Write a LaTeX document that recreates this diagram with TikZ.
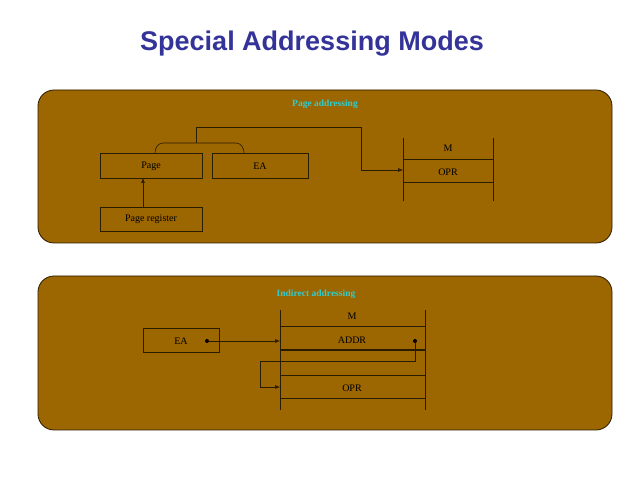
\documentclass[tikz,border=0pt]{standalone}
\usepackage{fontspec}
\setmainfont{Liberation Serif}
\newfontfamily\titlefont{Liberation Sans}
\usetikzlibrary{arrows.meta}
\definecolor{panel}{HTML}{9C6600}
\definecolor{edge}{HTML}{2A1C00}
\definecolor{ttl}{HTML}{333399}
\definecolor{cy}{HTML}{33CCCC}
\begin{document}
\begin{tikzpicture}[x=1pt,y=-1pt,
  pan/.style={draw=edge,fill=panel,rounded corners=16pt,line width=0.8pt},
  box/.style={draw=edge,line width=0.6pt},
  ln/.style={draw=edge,line width=0.6pt},
  arr/.style={ln,-{Latex[length=5pt,width=4pt]}},
  lbl/.style={font=\fontsize{10}{12}\selectfont,text=black},
  hd/.style={font=\bfseries\fontsize{9.5}{11}\selectfont,text=cy},
  dot/.style={circle,fill=black,inner sep=0pt,minimum size=4pt}]
\useasboundingbox (0,0) rectangle (638,478);
\fill[white] (0,0) rectangle (638,478);
\node[font=\titlefont\bfseries\fontsize{27}{30}\selectfont,text=ttl] (title) at (312,44) {Special Addressing Modes};
% top panel
\draw[pan] (38,90) rectangle (612,243);
\node[hd] (h1) at (325,104) {Page addressing};
\draw[box] (100,153) rectangle (202,178); \node[lbl] (page) at (151,166) {Page};
\draw[box] (212,153) rectangle (308,178); \node[lbl] (ea1) at (260,166) {EA};
\draw[box] (100,207) rectangle (202,231); \node[lbl] (preg) at (151,219) {Page register};
\coordinate (pregtop) at (143,207); \coordinate (pagebot) at (143,178);
\draw[arr] (pregtop) -- (pagebot);
\draw[ln] (155,153) to[out=90,in=180] (163,143) -- (236,143) to[out=0,in=90] (244,153);
\coordinate (bt) at (196,143); \coordinate (mopr) at (403,170);
\draw[arr] (bt) -- (196,127) -- (361,127) -- (361,170) -- (mopr);
\draw[ln] (403,138) -- (403,201) (493,138) -- (493,201) (403,159) -- (493,159) (403,182) -- (493,182);
\node[lbl] (m1) at (448,148) {M};
\node[lbl] (opr1) at (448,172) {OPR};
% bottom panel
\draw[pan] (38,276) rectangle (612,430);
\node[hd] (h2) at (316,294) {Indirect addressing};
\draw[ln] (280,310) -- (280,410) (425,310) -- (425,410) (280,326) -- (425,326) (280,375) -- (425,375) (280,398) -- (425,398);
\draw[draw=edge,line width=1.2pt] (280,350) -- (425,350);
\node[lbl] (m2) at (352,316) {M};
\node[lbl] (addr) at (352,340) {ADDR};
\node[lbl] (opr2) at (352,388) {OPR};
\draw[box] (143,328) rectangle (219,352); \node[lbl] (ea2) at (181,341) {EA};
\node[dot] (d1) at (207,341) {};
\node[dot] (d2) at (415,341) {};
\coordinate (maddr) at (280,341); \coordinate (mopr2) at (280,387);
\draw[arr] (d1) -- (maddr);
\draw[arr] (d2) -- (415,361) -- (260,361) -- (260,387) -- (mopr2);
\end{tikzpicture}
\end{document}
